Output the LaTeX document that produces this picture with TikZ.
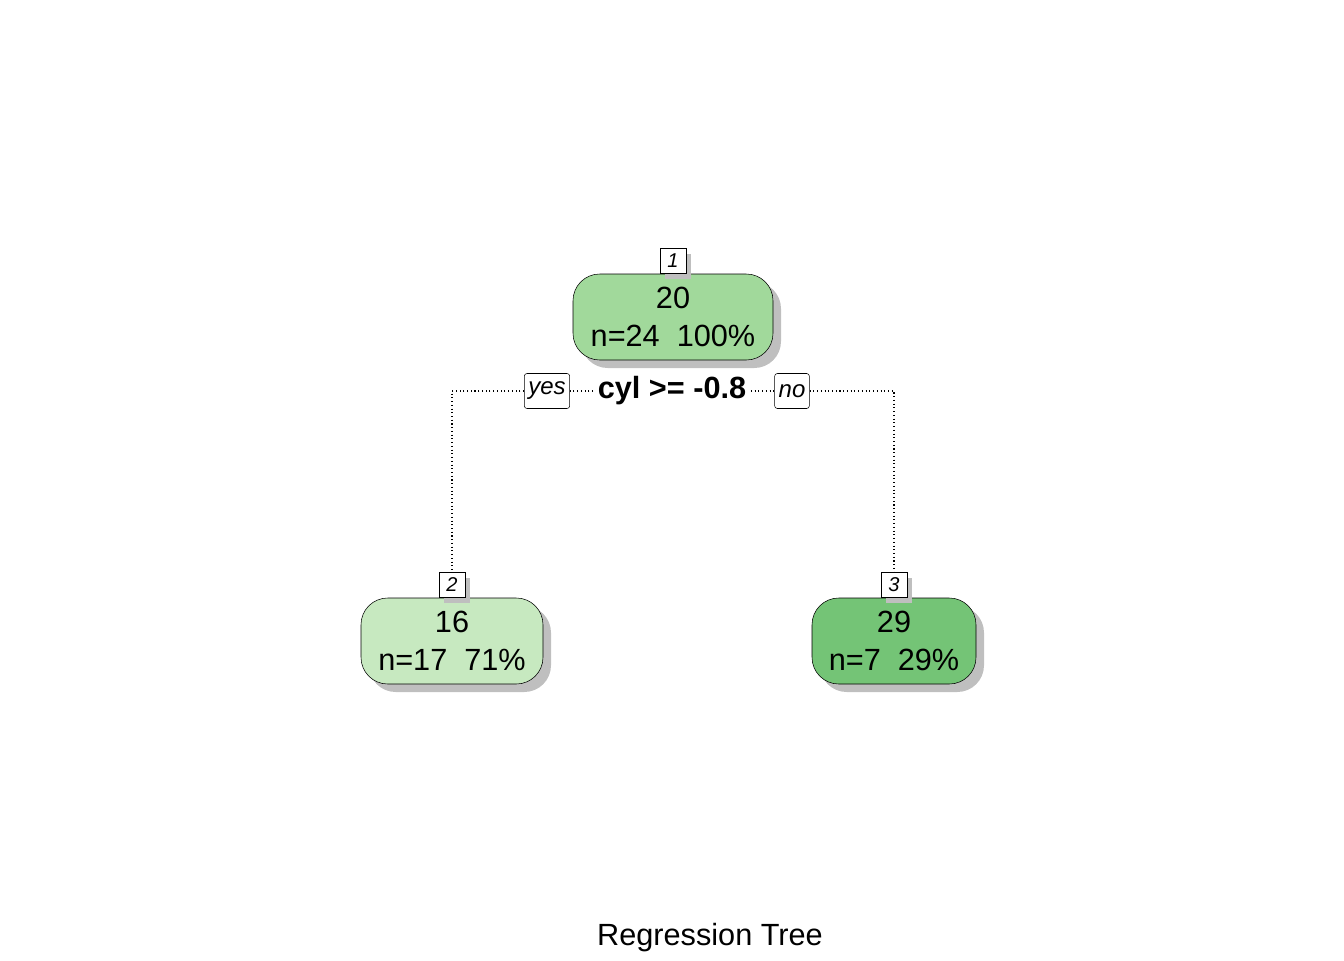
\documentclass[tikz,border=0pt]{standalone}
\usepackage{fontspec}
\setmainfont{Liberation Sans}
\usetikzlibrary{shadows}
\definecolor{leafA}{HTML}{A1D99B}
\definecolor{leafB}{HTML}{C7E9C0}
\definecolor{leafC}{HTML}{74C476}
\tikzset{
  treenode/.style={draw, rounded corners=20pt, minimum height=86*0.75pt, align=center,
    font=\fontsize{23}{29}\selectfont, inner sep=0pt,
    drop shadow={shadow xshift=6pt, shadow yshift=-6pt, fill=black!25, opacity=1}},
  numbox/.style={draw, fill=white, minimum width=26*0.75pt, minimum height=25*0.75pt, inner sep=0pt,
    font=\fontsize{15}{15}\selectfont\itshape,
    drop shadow={shadow xshift=4pt, shadow yshift=-4pt, fill=black!25, opacity=1}},
  answer/.style={draw, fill=white, rounded corners=2pt, minimum height=35*0.75pt, inner sep=3pt,
    font=\fontsize{18}{18}\selectfont\itshape},
  branch/.style={dotted, thick}
}
\begin{document}
\begin{tikzpicture}[x=0.75pt, y=-0.75pt]
	\useasboundingbox (0,0) rectangle (1344,960);
	
	% Nodes of the tree
	\node[treenode, fill=leafA, minimum width=200*0.75pt] (root) at (673,317) {20\\n=24\ \ 100\%};
	\node[treenode, fill=leafB, minimum width=182*0.75pt] (left) at (452,641) {16\\n=17\ \ 71\%};
	\node[treenode, fill=leafC, minimum width=164*0.75pt] (right) at (894,641) {29\\n=7\ \ 29\%};
	
	% Node numbers
	\node[numbox, anchor=south] (n1) at (root.north) {1};
	\node[numbox, anchor=south] (n2) at (left.north) {2};
	\node[numbox, anchor=south] (n3) at (right.north) {3};
	
	% Split
	\node[font=\fontsize{23}{23}\selectfont\bfseries] (split) at (672,391) {cyl >= -0.8};
	\node[answer] (yes) at (547,391) {yes};
	\node[answer] (no) at (792,391) {no};
	
	\draw[branch] (split) -- (yes);
	\draw[branch] (split) -- (no);
	\draw[branch] (yes.west) -| (n2.north);
	\draw[branch] (no.east) -| (n3.north);
	
	\node[font=\fontsize{23}{23}\selectfont] (title) at (710,938) {Regression Tree};
\end{tikzpicture}
\end{document}
